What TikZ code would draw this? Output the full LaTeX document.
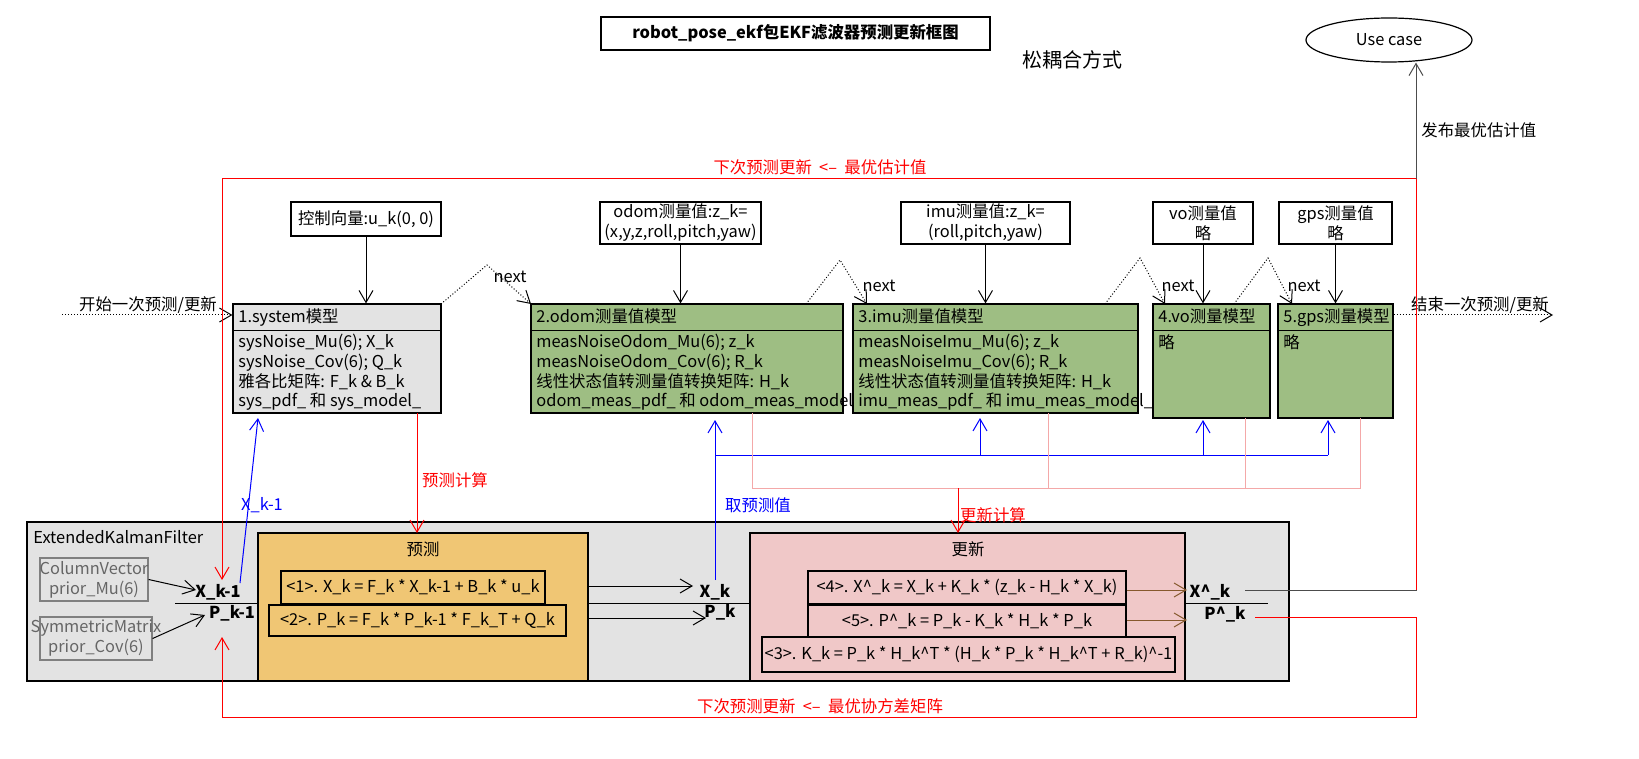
\documentclass[tikz,border=0pt]{standalone}
\usepackage{fontspec}
\setmainfont{Noto Sans CJK SC}
\usetikzlibrary{arrows.meta,fit,shapes.geometric}
\definecolor{grayfill}{HTML}{E3E3E3}
\definecolor{greenfill}{HTML}{9EBE83}
\definecolor{orangefill}{HTML}{F0C674}
\definecolor{pinkfill}{HTML}{F0C8C8}
\definecolor{pinkline}{HTML}{F4A8A8}
\begin{document}
\begin{tikzpicture}[x=0.5pt,y=-0.5pt,
  every node/.style={font=\fontsize{8.2}{10}\selectfont, inner sep=0pt},
  bx/.style={draw, line width=0.6pt, inner sep=0pt},
  ar/.style={-{Straight Barb[length=6pt,width=7pt]}, line width=0.5pt},
  dotar/.style={ar, densely dotted},
  red/.style={draw=red, text=red},
  cls/.style={anchor=north west, align=left, font=\fontsize{8.2}{9.8}\selectfont},
  bold/.style={font=\fontsize{8.2}{10}\selectfont\bfseries}]
\useasboundingbox (0,0) rectangle (1639,759);

% title, ellipse
\node[bx, fit={(601,17)(990,50)}] (title) {};
\node[bold] at (title.center) {robot\_pose\_ekf包EKF滤波器预测更新框图};
\node[font=\fontsize{10}{12}\selectfont] (lc) at (1072,60) {松耦合方式};
\node[draw, ellipse, line width=0.6pt, minimum width=83pt, minimum height=22pt] (uc) at (1389,40) {Use case};

% input boxes
\node[bx, fit={(291,202)(441,236)}] (u) {}; \node at (u.center) {控制向量:u\_k(0, 0)};
\node[bx, fit={(600,202)(761,244)}] (zo) {}; \node[align=center] at (zo.center) {odom测量值:z\_k=\\(x,y,z,roll,pitch,yaw)};
\node[bx, fit={(901,202)(1070,244)}] (zi) {}; \node[align=center] at (zi.center) {imu测量值:z\_k=\\(roll,pitch,yaw)};
\node[bx, fit={(1153,202)(1253,244)}] (zv) {}; \node[align=center] at (zv.center) {vo测量值\\略};
\node[bx, fit={(1279,202)(1392,244)}] (zg) {}; \node[align=center] at (zg.center) {gps测量值\\略};

% model boxes
\node[bx, fill=grayfill, fit={(233,304)(441,413)}] (sys) {};
\draw (233,330) -- (441,330);
\node[cls] at (238,308) {1.system模型};
\node[cls] at (238,334) {sysNoise\_Mu(6); X\_k\\sysNoise\_Cov(6); Q\_k\\雅各比矩阵: F\_k \& B\_k\\sys\_pdf\_ 和 sys\_model\_};

\node[bx, fill=greenfill, fit={(531,304)(843,413)}] (odom) {};
\draw (531,330) -- (843,330);
\node[cls] at (536,308) {2.odom测量值模型};
\node[cls] at (536,334) {measNoiseOdom\_Mu(6); z\_k\\measNoiseOdom\_Cov(6); R\_k\\线性状态值转测量值转换矩阵: H\_k\\odom\_meas\_pdf\_ 和 odom\_meas\_model\_};

\node[bx, fill=greenfill, fit={(853,304)(1138,413)}] (imu) {};
\draw (853,330) -- (1138,330);
\node[cls] at (858,308) {3.imu测量值模型};
\node[cls] at (858,334) {measNoiseImu\_Mu(6); z\_k\\measNoiseImu\_Cov(6); R\_k\\线性状态值转测量值转换矩阵: H\_k\\imu\_meas\_pdf\_ 和 imu\_meas\_model\_};

\node[bx, fill=greenfill, fit={(1153,304)(1270,418)}] (vo) {};
\draw (1153,330) -- (1270,330);
\node[cls] at (1158,308) {4.vo测量模型};
\node[cls] at (1158,334) {略};

\node[bx, fill=greenfill, fit={(1278,304)(1393,418)}] (gps) {};
\draw (1278,330) -- (1393,330);
\node[cls] at (1283,308) {5.gps测量模型};
\node[cls] at (1283,334) {略};

% inputs arrows
\draw[ar] (u.south) -- (u.south |- sys.north);
\draw[ar] (zo.south) -- (zo.south |- odom.north);
\draw[ar] (zi.south) -- (zi.south |- imu.north);
\draw[ar] (zv.south) -- (zv.south |- vo.north);
\draw[ar] (zg.south) -- (zg.south |- gps.north);

% next arrows
\coordinate (n1) at (487,265); \coordinate (n2) at (840,260); \coordinate (n3) at (1140,258); \coordinate (n4) at (1268,258);
\draw[dotar] (441,304) -- (n1) -- (531,304);
\draw[dotar] (806,304) -- (n2) -- (867,304);
\draw[dotar] (1105,304) -- (n3) -- (1165,304);
\draw[dotar] (1234,304) -- (n4) -- (1292,304);
\node (nx1) at (510,277) {next};
\node (nx2) at (879,286) {next};
\node (nx3) at (1178,286) {next};
\node (nx4) at (1304,286) {next};

% start / end
\coordinate (st) at (62,315); \coordinate (en) at (1553,315);
\draw[dotar] (st) -- (sys.west |- st);
\node (stl) at (148,305) {开始一次预测/更新};
\draw[dotar] (gps.east |- en) -- (en);
\node (enl) at (1480,305) {结束一次预测/更新};

% EKF
\node[bx, fill=grayfill, fit={(27,522)(1289,681)}] (ekf) {};
\node[anchor=west] at (33,537) {ExtendedKalmanFilter};
\node[draw=gray, fill=grayfill, line width=0.6pt, fit={(40,558)(148,601)}] (cv) {};
\node[text=gray!80!black, align=center] at (cv.center) {ColumnVector\\prior\_Mu(6)};
\node[draw=gray, fill=grayfill, line width=0.6pt, fit={(40,617)(152,660)}] (sm) {};
\node[text=gray!80!black, align=center] at (sm.center) {SymmetricMatrix\\prior\_Cov(6)};
\node[bold] (xk1) at (218,592) {X\_k-1};
\node[bold] (pk1) at (232,613) {P\_k-1};
\draw (175,603) -- (258,603);
\draw[ar] (cv.east) -- (196,590);
\draw[ar] (sm.east) -- (205,615);

\node[bx, fill=orangefill, fit={(258,533)(588,681)}] (pred) {};
\node at (423,549) {预测};
\node[bx, fill=orangefill, fit={(281,571)(545,604)}] (e1) {};
\node at (e1.center) {<1>. X\_k = F\_k * X\_k-1 + B\_k * u\_k};
\node[bx, fill=orangefill, fit={(269,605)(566,636)}] (e2) {};
\node at (e2.center) {<2>. P\_k = F\_k * P\_k-1 * F\_k\_T + Q\_k};

\node[bold] (xk) at (715,592) {X\_k};
\node[bold] (pk) at (720,612) {P\_k};
\draw[ar] (588,586) -- (693,586);
\draw (588,603) -- (750,603);
\draw[ar] (588,618) -- (706,618);

\node[bx, fill=pinkfill, fit={(750,533)(1185,681)}] (upd) {};
\node at (968,549) {更新};
\node[bx, fill=pinkfill, fit={(808,571)(1126,604)}] (e4) {};
\node at (e4.center) {<4>. X\^{}\_k = X\_k + K\_k * (z\_k - H\_k * X\_k)};
\node[bx, fill=pinkfill, fit={(808,605)(1126,637)}] (e5) {};
\node at (e5.center) {<5>. P\^{}\_k = P\_k - K\_k * H\_k * P\_k};
\node[bx, fill=pinkfill, fit={(762,637)(1175,672)}] (e3) {};
\node at (e3.center) {<3>. K\_k = P\_k * H\_k\^{}T * (H\_k * P\_k * H\_k\^{}T + R\_k)\^{}-1};

\node[bold] (xh) at (1210,592) {X\^{}\_k};
\node[bold] (ph) at (1225,614) {P\^{}\_k};
\draw (1185,603) -- (1268,603);
\draw[ar, draw=brown!70!black] (e4.east |- 590,590) -- (1187,590);
\draw[ar, draw=brown!70!black] (e5.east |- 620,620) -- (1187,620);

% publish
\coordinate (pub) at (1416,590);
\draw[ar, draw=black!70] (1245,590) -- (pub) -- (pub |- uc.south);
\node[anchor=west] at (1421,130) {发布最优估计值};

% red feedback
\draw[ar, red] (1416,179) -- (222,179) -- (222,580);
\node[text=red] at (820,167) {下次预测更新 \ <-- \ 最优估计值};
\draw[red] (1416,179) -- (1416,590);
\draw[ar, red] (1255,617) -- (1416,617) -- (1416,717) -- (222,717) -- (222,637);
\node[text=red] at (820,706) {下次预测更新 \ <-- \ 最优协方差矩阵};

% predict compute
\draw[ar, red] (417,413) -- (417,533);
\node[text=red] at (455,480) {预测计算};

% blue
\draw[ar, blue] (240,583) -- (258,418);
\node[text=blue] at (262,505) {X\_k-1};
\draw[ar, blue] (715,580) -- (715,420);
\node[text=blue] at (758,505) {取预测值};
\draw[blue] (715,455) -- (1328,455);
\draw[ar, blue] (980,455) -- (980,418);
\draw[ar, blue] (1203,455) -- (1203,420);
\draw[ar, blue] (1328,455) -- (1328,420);

% pink update lines
\draw[pinkline] (752,413) -- (752,488) -- (1360,488) -- (1360,418);
\draw[pinkline] (1048,413) -- (1048,488);
\draw[pinkline] (1245,418) -- (1245,488);
\draw[ar, red] (958,488) -- (958,533);
\node[text=red] at (993,515) {更新计算};
\end{tikzpicture}
\end{document}
